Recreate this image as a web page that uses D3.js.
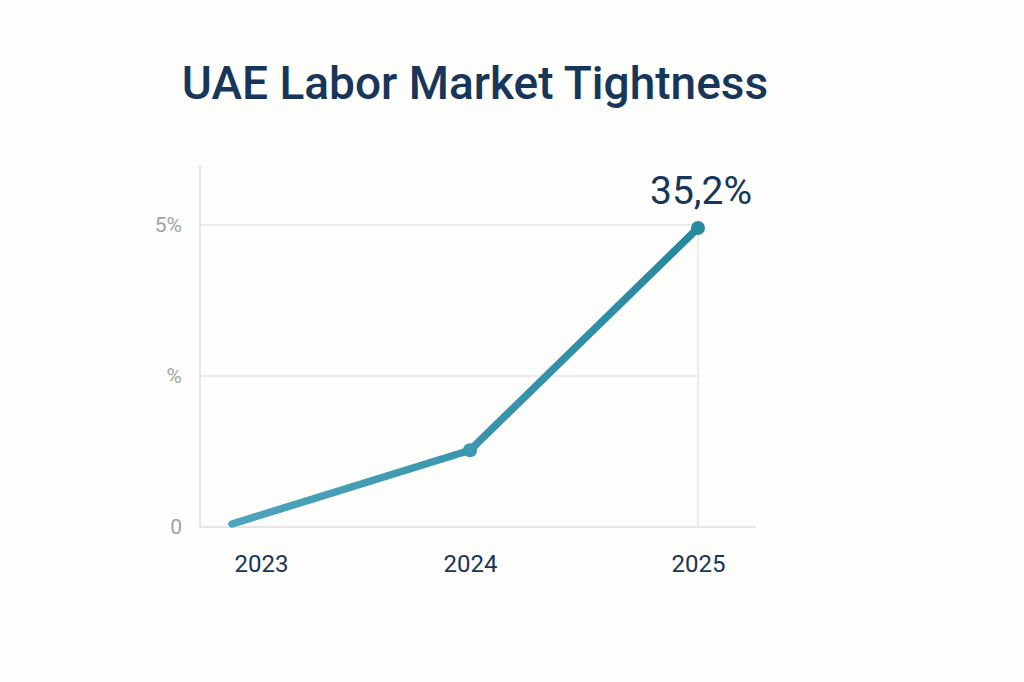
<!DOCTYPE html>
<html>
<head>
<meta charset="utf-8">
<script src="https://cdn.jsdelivr.net/npm/d3@7"></script>
<style>
  body { margin: 0; background: #fdfdfb; }
  svg { display: block; }
</style>
</head>
<body>
<div id="chart"></div>
<script>
// chart data
var years = [2023, 2024, 2025];
var values = [0.05, 1.27, 4.95];
var yTicks = [0, 2.5, 5];
var yTickLabels = ["0", "%", "5%"];
var lastLabel = "35,2%";
var title = "UAE Labor Market Tightness";

var navy = "#17365a";

var svg = d3.select("#chart")
	.append("svg")
		.attr("width", 1024)
		.attr("height", 682);

svg.append("rect")
	.attr("width", 1024)
	.attr("height", 682)
	.attr("fill", "#fdfdfb");

// plot area
var plotLeft = 200, plotRight = 756, plotTop = 165, plotBottom = 527;

var x = d3.scaleLinear()
	.domain(years)
	.range([232, 470, 698]);

var y = d3.scaleLinear()
	.domain([0, 5])
	.range([plotBottom, 225]);

// title
svg.append("text")
	.attr("x", 475)
	.attr("y", 99)
	.attr("text-anchor", "middle")
	.attr("font-family", "Roboto, 'Noto Sans', sans-serif")
	.attr("font-weight", 500)
	.attr("font-size", "46px")
	.attr("fill", navy)
	.text(title);

// gridlines
svg.selectAll(".grid")
	.data(yTicks.slice(1))
	.enter().append("line")
		.attr("class", "grid")
		.attr("x1", plotLeft)
		.attr("x2", x(2025))
		.attr("y1", function(d){ return y(d) })
		.attr("y2", function(d){ return y(d) })
		.attr("stroke", "#e4e4e4")
		.attr("stroke-width", 1.5);

// vertical guide at last year
svg.append("line")
	.attr("x1", x(2025))
	.attr("x2", x(2025))
	.attr("y1", y(values[2]))
	.attr("y2", plotBottom)
	.attr("stroke", "#e4e4e4")
	.attr("stroke-width", 1.5);

// y axis line
svg.append("line")
	.attr("x1", plotLeft).attr("x2", plotLeft)
	.attr("y1", plotTop).attr("y2", plotBottom)
	.attr("stroke", "#dedede")
	.attr("stroke-width", 1.5);

// baseline
svg.append("line")
	.attr("x1", plotLeft).attr("x2", plotRight)
	.attr("y1", plotBottom).attr("y2", plotBottom)
	.attr("stroke", "#dedede")
	.attr("stroke-width", 1.5);

// y tick labels
svg.selectAll(".ylab")
	.data(yTicks)
	.enter().append("text")
		.attr("class", "ylab")
		.attr("x", 182)
		.attr("y", function(d){ return y(d) })
		.attr("dy", "0.35em")
		.attr("text-anchor", "end")
		.attr("font-family", "Roboto, 'Noto Sans', sans-serif")
		.attr("font-size", "21px")
		.attr("fill", "#a3a3a3")
		.text(function(d, i){ return yTickLabels[i] });

// x tick labels
var xAxis = d3.axisBottom(x)
	.tickValues(years)
	.tickFormat(d3.format("d"))
	.tickSize(0)
	.tickPadding(0);

var gx = svg.append("g")
	.attr("transform", "translate(0," + plotBottom + ")")
	.call(xAxis);
gx.select(".domain").remove();
gx.selectAll("text")
	.attr("y", 45)
	.attr("dy", 0)
	.attr("dx", function(d, i){ return i === 0 ? 29 : 0 })
	.attr("font-family", "Roboto, 'Noto Sans', sans-serif")
	.attr("font-size", "24px")
	.attr("fill", navy);

// line with gradient
var grad = svg.append("defs").append("linearGradient")
	.attr("id", "lineGrad")
	.attr("gradientUnits", "userSpaceOnUse")
	.attr("x1", x(2023)).attr("x2", x(2025))
	.attr("y1", 0).attr("y2", 0);
grad.append("stop").attr("offset", "0%").attr("stop-color", "#4ea5bd");
grad.append("stop").attr("offset", "100%").attr("stop-color", "#27879f");

var data = years.map(function(yr, i){ return {year: yr, value: values[i]} });

var line = d3.line()
	.x(function(d){ return x(d.year) })
	.y(function(d){ return y(d.value) });

svg.append("path")
	.datum(data)
	.attr("d", line)
	.attr("fill", "none")
	.attr("stroke", "url(#lineGrad)")
	.attr("stroke-width", 7.5)
	.attr("stroke-linecap", "round")
	.attr("stroke-linejoin", "round");

// markers (not on first point)
svg.selectAll(".dot")
	.data(data.slice(1))
	.enter().append("circle")
		.attr("class", "dot")
		.attr("cx", function(d){ return x(d.year) })
		.attr("cy", function(d){ return y(d.value) })
		.attr("r", 7)
		.attr("fill", function(d, i){ return i === 0 ? "#3a98b1" : "#2a8aa2" });

// value label
svg.append("text")
	.attr("x", x(2025) + 3)
	.attr("y", y(values[2]) - 24)
	.attr("text-anchor", "middle")
	.attr("font-family", "Roboto, 'Noto Sans', sans-serif")
	.attr("font-size", "39px")
	.attr("fill", navy)
	.text(lastLabel);
</script>
</body>
</html>
